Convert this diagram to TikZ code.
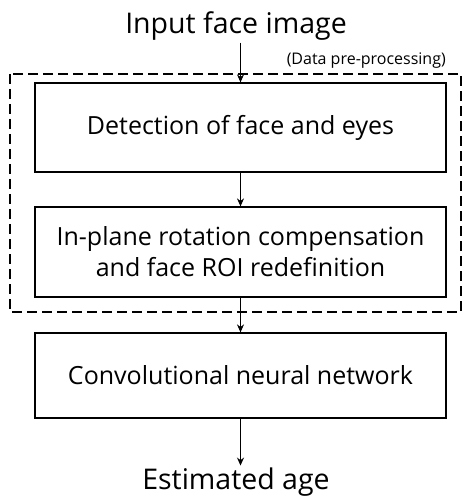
\documentclass[tikz,border=0pt]{standalone}
\usepackage{fontspec}
\setmainfont{Open Sans}
\usetikzlibrary{arrows.meta}

\tikzset{
  stepbox/.style={draw, line width=1.2pt, minimum width=411pt, align=center,
    font=\fontsize{25}{31}\selectfont},
  flow/.style={->, line width=1.2pt},
}

\begin{document}
\begin{tikzpicture}[x=1pt, y=-1pt, >={Stealth[length=8pt,width=7pt]}]
  \useasboundingbox (0,0) rectangle (474,502);
  % input and output labels
  \node[font=\fontsize{28.5}{32}\selectfont, inner sep=2pt] (input) at (236,26) {Input face image};
  \node[font=\fontsize{28.5}{32}\selectfont, inner sep=2pt] (age) at (236,482) {Estimated age};
  % processing steps
  \node[stepbox, minimum height=89pt] (detect) at (240.5,127.5) {Detection of face and eyes};
  \node[stepbox, minimum height=90pt] (rotate) at (240.5,252) {In-plane rotation compensation\\and face ROI redefinition};
  \node[stepbox, minimum height=85pt] (cnn) at (240.5,375.5) {Convolutional neural network};
  % pre-processing frame
  \draw[line width=1.2pt, dash pattern=on 10pt off 5pt] (10,74) rectangle (461,312);
  \node[anchor=east, font=\fontsize{16}{18}\selectfont, inner sep=0pt] (prep) at (446,61) {(Data pre-processing)};
  % arrows
  \draw[flow] (input.south -| detect.north) -- (detect.north);
  \draw[flow] (detect) -- (rotate);
  \draw[flow] (rotate) -- (cnn);
  \draw[flow] (cnn.south) -- (cnn.south |- age.north);
\end{tikzpicture}
\end{document}
